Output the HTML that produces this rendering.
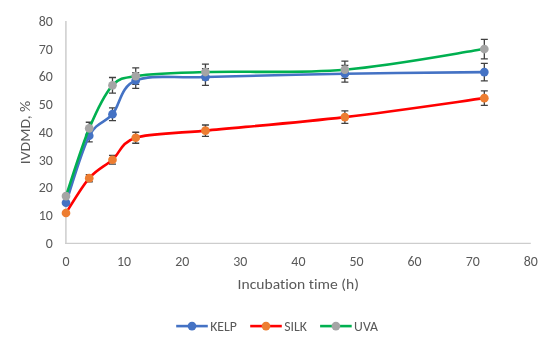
<!DOCTYPE html>
<html><head><meta charset="utf-8"><title>IVDMD chart</title>
<style>
html,body{margin:0;padding:0;background:#fff;}
body{width:550px;height:345px;overflow:hidden;}
svg{display:block;}
text{font-family:Carlito, 'Liberation Sans', sans-serif;fill:#595959;font-size:13.9px;font-variant-ligatures:none;font-feature-settings:"liga" 0,"clig" 0;font-size-adjust:0.4775;}
text.t{font-size:15.2px;}
text.lg{font-size:13.75px;}
</style></head><body>
<svg width="550" height="345" viewBox="0 0 550 345">
<rect width="550" height="345" fill="#fff"/>
<line x1="65.9" y1="21" x2="65.9" y2="243.9" stroke="#CDCDCD" stroke-width="1.5"/>
<line x1="65" y1="243.35" x2="530.8" y2="243.35" stroke="#CDCDCD" stroke-width="1.25"/>
<text x="52.9" y="248.00" text-anchor="end" textLength="7.047" lengthAdjust="spacingAndGlyphs">0</text>
<text x="52.9" y="220.22" text-anchor="end" textLength="14.094" lengthAdjust="spacingAndGlyphs">10</text>
<text x="52.9" y="192.44" text-anchor="end" textLength="14.094" lengthAdjust="spacingAndGlyphs">20</text>
<text x="52.9" y="164.66" text-anchor="end" textLength="14.094" lengthAdjust="spacingAndGlyphs">30</text>
<text x="52.9" y="136.88" text-anchor="end" textLength="14.094" lengthAdjust="spacingAndGlyphs">40</text>
<text x="52.9" y="109.10" text-anchor="end" textLength="14.094" lengthAdjust="spacingAndGlyphs">50</text>
<text x="52.9" y="81.32" text-anchor="end" textLength="14.094" lengthAdjust="spacingAndGlyphs">60</text>
<text x="52.9" y="53.54" text-anchor="end" textLength="14.094" lengthAdjust="spacingAndGlyphs">70</text>
<text x="52.9" y="25.76" text-anchor="end" textLength="14.094" lengthAdjust="spacingAndGlyphs">80</text>
<text x="66.00" y="266.3" text-anchor="middle" textLength="7.047" lengthAdjust="spacingAndGlyphs">0</text>
<text x="124.10" y="266.3" text-anchor="middle" textLength="14.094" lengthAdjust="spacingAndGlyphs">10</text>
<text x="182.20" y="266.3" text-anchor="middle" textLength="14.094" lengthAdjust="spacingAndGlyphs">20</text>
<text x="240.30" y="266.3" text-anchor="middle" textLength="14.094" lengthAdjust="spacingAndGlyphs">30</text>
<text x="298.40" y="266.3" text-anchor="middle" textLength="14.094" lengthAdjust="spacingAndGlyphs">40</text>
<text x="356.50" y="266.3" text-anchor="middle" textLength="14.094" lengthAdjust="spacingAndGlyphs">50</text>
<text x="414.60" y="266.3" text-anchor="middle" textLength="14.094" lengthAdjust="spacingAndGlyphs">60</text>
<text x="472.70" y="266.3" text-anchor="middle" textLength="14.094" lengthAdjust="spacingAndGlyphs">70</text>
<text x="530.80" y="266.3" text-anchor="middle" textLength="14.094" lengthAdjust="spacingAndGlyphs">80</text>
<path d="M89.24,129.68 V141.90 M85.74,129.68 H92.74 M85.74,141.90 H92.74" stroke="#404040" stroke-width="1.30" fill="none"/>
<path d="M112.48,107.82 V120.60 M108.98,107.82 H115.98 M108.98,120.60 H115.98" stroke="#404040" stroke-width="1.30" fill="none"/>
<path d="M135.72,72.56 V88.45 M132.22,72.56 H139.22 M132.22,88.45 H139.22" stroke="#404040" stroke-width="1.30" fill="none"/>
<path d="M205.44,68.70 V85.37 M201.94,68.70 H208.94 M201.94,85.37 H208.94" stroke="#404040" stroke-width="1.30" fill="none"/>
<path d="M344.88,65.31 V82.09 M341.38,65.31 H348.38 M341.38,82.09 H348.38" stroke="#404040" stroke-width="1.30" fill="none"/>
<path d="M484.32,63.40 V80.79 M480.82,63.40 H487.82 M480.82,80.79 H487.82" stroke="#404040" stroke-width="1.30" fill="none"/>
<path d="M89.24,174.54 V181.77 M85.74,174.54 H92.74 M85.74,181.77 H92.74" stroke="#404040" stroke-width="1.30" fill="none"/>
<path d="M112.48,155.29 V164.18 M108.98,155.29 H115.98 M108.98,164.18 H115.98" stroke="#404040" stroke-width="1.30" fill="none"/>
<path d="M135.72,132.24 V143.24 M132.22,132.24 H139.22 M132.22,143.24 H139.22" stroke="#404040" stroke-width="1.30" fill="none"/>
<path d="M205.44,125.01 V136.29 M201.94,125.01 H208.94 M201.94,136.29 H208.94" stroke="#404040" stroke-width="1.30" fill="none"/>
<path d="M344.88,110.90 V123.29 M341.38,110.90 H348.38 M341.38,123.29 H348.38" stroke="#404040" stroke-width="1.30" fill="none"/>
<path d="M484.32,90.90 V105.40 M480.82,90.90 H487.82 M480.82,105.40 H487.82" stroke="#404040" stroke-width="1.30" fill="none"/>
<path d="M89.24,122.23 V134.46 M85.74,122.23 H92.74 M85.74,134.46 H92.74" stroke="#404040" stroke-width="1.30" fill="none"/>
<path d="M112.48,77.48 V93.20 M108.98,77.48 H115.98 M108.98,93.20 H115.98" stroke="#404040" stroke-width="1.30" fill="none"/>
<path d="M135.72,67.79 V84.34 M132.22,67.79 H139.22 M132.22,84.34 H139.22" stroke="#404040" stroke-width="1.30" fill="none"/>
<path d="M205.44,64.15 V79.93 M201.94,64.15 H208.94 M201.94,79.93 H208.94" stroke="#404040" stroke-width="1.30" fill="none"/>
<path d="M344.88,61.06 V78.29 M341.38,61.06 H348.38 M341.38,78.29 H348.38" stroke="#404040" stroke-width="1.30" fill="none"/>
<path d="M484.32,39.28 V58.79 M480.82,39.28 H487.82 M480.82,58.79 H487.82" stroke="#404040" stroke-width="1.30" fill="none"/>
<path d="M66.00,202.74 C69.87,191.58 81.49,150.55 89.24,135.79 C96.61,121.75 105.11,122.97 112.48,114.21 C120.23,104.99 120.23,86.70 135.72,80.51 C151.21,74.31 170.58,78.17 205.44,77.04 C240.30,75.90 298.40,74.53 344.88,73.70 C391.36,72.88 461.08,72.36 484.32,72.09" fill="none" stroke="#4472C4" stroke-width="2.60" stroke-linecap="round" stroke-linejoin="round"/>
<circle cx="66.00" cy="202.74" r="4.35" fill="#4472C4"/>
<circle cx="89.24" cy="135.79" r="4.35" fill="#4472C4"/>
<circle cx="112.48" cy="114.21" r="4.35" fill="#4472C4"/>
<circle cx="135.72" cy="80.51" r="4.35" fill="#4472C4"/>
<circle cx="205.44" cy="77.04" r="4.35" fill="#4472C4"/>
<circle cx="344.88" cy="73.70" r="4.35" fill="#4472C4"/>
<circle cx="484.32" cy="72.09" r="4.35" fill="#4472C4"/>
<path d="M66.00,213.02 C69.87,207.21 81.49,187.04 89.24,178.16 C96.99,169.28 104.73,166.47 112.48,159.74 C120.12,153.10 120.45,142.51 135.72,137.74 C151.21,132.89 170.58,134.09 205.44,130.65 C240.30,127.21 298.40,122.51 344.88,117.10 C391.36,111.68 461.08,101.31 484.32,98.15" fill="none" stroke="#FF0000" stroke-width="2.60" stroke-linecap="round" stroke-linejoin="round"/>
<circle cx="66.00" cy="213.02" r="4.35" fill="#ED7D31"/>
<circle cx="89.24" cy="178.16" r="4.35" fill="#ED7D31"/>
<circle cx="112.48" cy="159.74" r="4.35" fill="#ED7D31"/>
<circle cx="135.72" cy="137.74" r="4.35" fill="#ED7D31"/>
<circle cx="205.44" cy="130.65" r="4.35" fill="#ED7D31"/>
<circle cx="344.88" cy="117.10" r="4.35" fill="#ED7D31"/>
<circle cx="484.32" cy="98.15" r="4.35" fill="#ED7D31"/>
<path d="M66.00,196.07 C69.87,184.79 81.49,146.80 89.24,128.35 C96.99,109.89 104.73,94.06 112.48,85.34 C118.67,78.38 123.33,77.84 135.72,76.06 C151.21,73.85 170.58,73.10 205.44,72.04 C240.30,70.97 298.40,73.51 344.88,69.68 C391.36,65.84 461.08,52.47 484.32,49.03" fill="none" stroke="#00B050" stroke-width="2.60" stroke-linecap="round" stroke-linejoin="round"/>
<circle cx="66.00" cy="196.07" r="4.35" fill="#A5A5A5"/>
<circle cx="89.24" cy="128.35" r="4.35" fill="#A5A5A5"/>
<circle cx="112.48" cy="85.34" r="4.35" fill="#A5A5A5"/>
<circle cx="135.72" cy="76.06" r="4.35" fill="#A5A5A5"/>
<circle cx="205.44" cy="72.04" r="4.35" fill="#A5A5A5"/>
<circle cx="344.88" cy="69.68" r="4.35" fill="#A5A5A5"/>
<circle cx="484.32" cy="49.03" r="4.35" fill="#A5A5A5"/>
<line x1="176.20" y1="326.1" x2="207.80" y2="326.1" stroke="#4472C4" stroke-width="2.60"/>
<circle cx="192.00" cy="326.1" r="4.35" fill="#4472C4"/>
<text x="210.20" y="330.7" class="lg" textLength="26.750" lengthAdjust="spacingAndGlyphs">KELP</text>
<line x1="250.20" y1="326.1" x2="281.80" y2="326.1" stroke="#FF0000" stroke-width="2.60"/>
<circle cx="266.00" cy="326.1" r="4.35" fill="#ED7D31"/>
<text x="284.20" y="330.7" class="lg" textLength="22.719" lengthAdjust="spacingAndGlyphs">SILK</text>
<line x1="320.10" y1="326.1" x2="351.70" y2="326.1" stroke="#00B050" stroke-width="2.60"/>
<circle cx="335.90" cy="326.1" r="4.35" fill="#A5A5A5"/>
<text x="354.10" y="330.7" class="lg" textLength="23.938" lengthAdjust="spacingAndGlyphs">UVA</text>
<text class="t" transform="translate(29.6,132.5) rotate(-90)" text-anchor="middle" textLength="63.453" lengthAdjust="spacingAndGlyphs">IVDMD, %</text>
<text class="t" x="298.3" y="288.75" text-anchor="middle" textLength="121.375" lengthAdjust="spacingAndGlyphs">Incubation time (h)</text>
</svg>
</body></html>
